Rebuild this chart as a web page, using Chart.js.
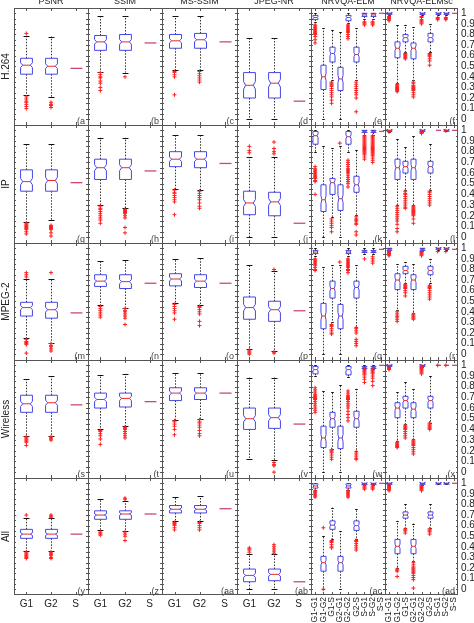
<!DOCTYPE html>
<html>
<head>
<meta charset="utf-8">
<script src="https://cdn.jsdelivr.net/npm/chart.js@4.4.1/dist/chart.umd.min.js"></script>
<style>
html,body{margin:0;padding:0;background:#fff}
#wrap{position:relative;width:474px;height:623px;overflow:hidden}
#wrap canvas{position:absolute}
</style>
</head>
<body>
<div id="wrap"></div>
<script>
// row and column names
const rowNames = ['H.264', 'IP', 'MPEG-2', 'Wireless', 'All']
const metricNames = ['PSNR', 'SSIM', 'MS-SSIM', 'JPEG-NR', 'NRVQA-ELM', 'NRVQA-ELMsc']
const groupLabels = ['G1', 'G2', 'S']
const pairLabels = ['G1-G1', 'G1-G2', 'G1-S', 'G2-G1', 'G2-G2', 'G2-S', 'S-G1', 'S-G2', 'S-S']
const yTickValues = [0, 0.1, 0.2, 0.3, 0.4, 0.5, 0.6, 0.7, 0.8, 0.9, 1]
const panelLetters = ['a','b','c','d','e','f','g','h','i','j','k','l','m','n','o','p','q','r',
  's','t','u','v','w','x','y','z','aa','ab','ac','ad']

// box stats: [lower whisker, q1, median, q3, upper whisker], one row per distortion set
const psnrBoxes = [
  [[0.23,0.425,0.51,0.575,0.79],[0.21,0.425,0.50,0.575,0.78]],
  [[0.14,0.43,0.52,0.63,0.87],[0.16,0.43,0.53,0.63,0.87]],
  [[0.15,0.36,0.44,0.49,0.71],[0.11,0.34,0.42,0.49,0.71]],
  [[0.34,0.56,0.64,0.72,0.87],[0.34,0.56,0.65,0.72,0.90]],
  [[0.36,0.48,0.52,0.565,0.67],[0.365,0.48,0.52,0.565,0.67]]
]
const psnrS = [0.48, 0.51, 0.39, 0.63, 0.52]
const psnrOutliers = [
  [[0.81,0.21,0.19,0.17,0.16,0.14,0.12,0.10],[0.16,0.14,0.13,0.11]],
  [[0.13,0.12,0.11,0.10,0.09,0.08,0.07,0.05,0.03],[0.11,0.10,0.09,0.08,0.07,0.04,0.01]],
  [[0.77,0.75,0.73,0.14,0.12,0.11,0.10,0.09,0.01],[0.77,0.10,0.08,0.07,0.05,0.03]],
  [[0.33,0.32,0.31,0.30,0.29,0.28,0.25],[0.33,0.32,0.31,0.30]],
  [[0.70,0.35,0.34,0.33,0.32,0.31,0.30,0.29],[0.70,0.69,0.68,0.35,0.34,0.33,0.32,0.30,0.29]]
]

const ssimBoxes = [
  [[0.45,0.65,0.73,0.79,0.97],[0.44,0.65,0.73,0.80,0.97]],
  [[0.30,0.54,0.65,0.73,0.93],[0.27,0.54,0.65,0.73,0.93]],
  [[0.46,0.64,0.69,0.75,0.88],[0.44,0.62,0.685,0.75,0.89]],
  [[0.40,0.60,0.68,0.74,0.91],[0.43,0.61,0.69,0.74,0.92]],
  [[0.555,0.66,0.70,0.74,0.85],[0.55,0.66,0.71,0.74,0.835]]
]
const ssimS = [0.72, 0.62, 0.67, 0.66, 0.71]
const ssimOutliers = [
  [[0.44,0.42,0.40,0.39,0.36,0.34,0.30,0.27],[0.40]],
  [[0.29,0.27,0.26,0.24,0.22,0.20,0.18,0.16,0.13],[0.26,0.25,0.24,0.23,0.22,0.20,0.18,0.09,0.04]],
  [[0.45,0.43,0.41,0.39,0.37,0.35],[0.43,0.41,0.40,0.38,0.36,0.34,0.28]],
  [[0.39,0.38,0.36,0.34,0.31,0.26],[0.42,0.41,0.40,0.38,0.36,0.34,0.32]],
  [[0.54,0.53,0.52,0.51],[0.86,0.85,0.54,0.52,0.50,0.46]]
]

const msssimBoxes = [
  [[0.46,0.67,0.74,0.80,0.97],[0.46,0.67,0.75,0.81,0.97]],
  [[0.45,0.66,0.73,0.80,0.96],[0.44,0.65,0.73,0.80,0.96]],
  [[0.48,0.645,0.71,0.76,0.90],[0.46,0.63,0.69,0.75,0.91]],
  [[0.49,0.67,0.74,0.79,0.93],[0.50,0.68,0.74,0.79,0.93]],
  [[0.64,0.72,0.755,0.79,0.87],[0.64,0.72,0.755,0.79,0.88]]
]
const msssimS = [0.73, 0.69, 0.67, 0.74, 0.76]
const msssimOutliers = [
  [[0.45,0.44,0.42,0.40,0.23],[0.45,0.43,0.41,0.39,0.37,0.35]],
  [[0.44,0.42,0.41,0.39,0.37,0.35,0.33,0.21],[0.43,0.41,0.39,0.37,0.35,0.32,0.29,0.27]],
  [[0.47,0.45,0.43,0.41,0.39,0.33],[0.45,0.44,0.42,0.40,0.38,0.31,0.27]],
  [[0.48,0.47,0.45,0.43,0.40,0.35],[0.49,0.47,0.46,0.44,0.42,0.39,0.36,0.34]],
  [[0.63,0.62,0.61,0.60,0.58,0.56],[0.63,0.62,0.60,0.58,0.56]]
]

const jpegBoxes = [
  [[0.0,0.20,0.32,0.44,0.77],[0.0,0.20,0.34,0.44,0.77]],
  [[0.0,0.21,0.32,0.43,0.75],[0.0,0.20,0.33,0.42,0.75]],
  [[0.05,0.33,0.44,0.54,0.84],[0.03,0.31,0.42,0.50,0.79]],
  [[0.12,0.40,0.50,0.60,0.885],[0.11,0.41,0.51,0.60,0.885]],
  [[0.0,0.07,0.13,0.19,0.33],[0.0,0.08,0.14,0.19,0.33]]
]
const jpegS = [0.17, 0.13, 0.41, 0.45, 0.07]
const jpegOutliers = [
  [[],[]],
  [[0.85,0.81,0.79],[0.89,0.83,0.80,0.78]],
  [[0.04,0.03,0.02,0.01,0.0],[0.80,0.02,0.01]],
  [[],[0.09,0.07,0.06,0.0]],
  [[0.39,0.38,0.37,0.35],[0.42,0.40,0.38,0.36,0.34]]
]

const elmBoxes = [
  [[0.92,0.94,0.96,0.98,1.0],[0.0,0.28,0.40,0.51,0.86],[0.37,0.54,0.62,0.68,0.84],
   [0.0,0.27,0.38,0.49,0.82],[0.91,0.93,0.96,0.98,1.0],[0.37,0.54,0.61,0.68,0.86],
   [0.95,0.97,0.985,1.0,1.0],[0.95,0.97,0.985,1.0,1.0],[1,1,1,1,1]],
  [[0.80,0.87,0.95,0.99,1.0],[0.0,0.24,0.35,0.49,0.85],[0.19,0.40,0.51,0.55,0.83],
   [0.0,0.25,0.36,0.49,0.85],[0.80,0.87,0.94,0.99,1.0],[0.21,0.42,0.49,0.57,0.82],
   [0.96,0.98,0.99,1.0,1.0],[0.96,0.98,0.99,1.0,1.0],[0.99,0.99,0.99,0.99,0.99]],
  [[0.93,0.95,0.965,0.98,1.0],[0.0,0.24,0.36,0.48,0.82],[0.30,0.53,0.62,0.69,0.84],
   [0.0,0.24,0.36,0.47,0.84],[0.93,0.95,0.965,0.98,1.0],[0.26,0.53,0.63,0.69,0.84],
   [0.95,0.96,0.97,0.98,1.0],[0.95,0.96,0.97,0.98,1.0],[0.99,0.99,0.99,0.99,0.99]],
  [[0.90,0.92,0.96,0.99,1.0],[0.0,0.23,0.32,0.43,0.76],[0.22,0.42,0.50,0.56,0.75],
   [0.0,0.22,0.32,0.43,0.82],[0.89,0.91,0.96,0.99,1.0],[0.20,0.42,0.50,0.57,0.78],
   [0.97,0.97,0.98,0.99,1.0],[0.97,0.97,0.98,0.99,1.0],[1,1,1,1,1]],
  [[0.94,0.955,0.975,0.995,1.0],[0.0,0.17,0.25,0.31,0.50],[0.47,0.565,0.605,0.645,0.77],
   [0.0,0.17,0.25,0.31,0.55],[0.94,0.955,0.975,0.995,1.0],[0.47,0.555,0.60,0.645,0.755],
   [0.98,0.99,0.995,1.0,1.0],[0.98,0.99,0.995,1.0,1.0],[1,1,1,1,1]]
]
const elmOutliers = [
  [[0.89,0.88,0.87,0.86,0.85,0.84,0.83,0.82,0.81,0.80,0.78,0.75,0.72],[],
   [0.35,0.34,0.33,0.32,0.31,0.29,0.27,0.25,0.23,0.21,0.18,0.15],[],
   [0.89,0.88,0.87,0.86,0.85,0.84,0.83,0.82,0.80,0.78,0.76],
   [0.35,0.33,0.31,0.29,0.27,0.25,0.23,0.20,0.07],[0.92,0.91,0.90,0.89],[0.92,0.91,0.90,0.89],[]],
  [[0.66,0.64,0.63,0.62,0.61,0.60,0.59,0.58,0.57,0.56,0.55,0.53,0.52,0.40],[],
   [0.17,0.15,0.13,0.11,0.09,0.05],[0.88],
   [0.72,0.70,0.68,0.66,0.64,0.63,0.62,0.61,0.60,0.58,0.56,0.54,0.52,0.50,0.47],
   [0.19,0.17,0.16,0.15,0.13,0.12,0.05,0.02],
   [0.95,0.94,0.93,0.92,0.91,0.90,0.89,0.88,0.87,0.86,0.85,0.84,0.83,0.82,0.81,0.80,0.79,0.78,0.77,0.75,0.73],
   [0.95,0.94,0.93,0.92,0.91,0.90,0.89,0.88,0.87,0.86,0.85,0.84,0.83,0.82,0.81,0.80,0.79,0.78,0.77,0.76,0.74,0.72,0.70],[]],
  [[0.90,0.89,0.88,0.87,0.86,0.85,0.84,0.82,0.80,0.79],[],
   [0.28,0.27,0.26,0.24,0.22,0.20,0.19],[0.87],
   [0.90,0.89,0.88,0.87,0.86,0.85,0.84,0.83,0.82,0.80,0.79,0.77],
   [0.25,0.24,0.22,0.20,0.14,0.12,0.10,0.08],[0.90],[0.92,0.90,0.88,0.86],[]],
  [[0.79,0.77,0.75,0.73,0.72,0.71,0.70,0.69,0.68,0.66,0.64,0.62,0.60,0.58,0.56],[],
   [0.21,0.20,0.19,0.18,0.16,0.14,0.12],[],
   [0.76,0.74,0.72,0.71,0.70,0.69,0.68,0.66,0.64,0.62,0.60,0.57,0.54,0.51,0.48],
   [0.19,0.17,0.15,0.13,0.12],[0.96,0.95,0.94,0.93,0.92,0.91,0.89,0.87,0.84],
   [0.96,0.95,0.94,0.93,0.92,0.90,0.88,0.85,0.81],[]],
  [[0.93,0.92,0.91,0.90,0.89,0.88,0.87],[0.58,0.0],[0.46,0.45,0.44,0.42,0.40,0.39],[],
   [0.93,0.92,0.91,0.90,0.89,0.88,0.87],[0.46,0.45,0.43,0.41,0.39,0.37],
   [0.975,0.965,0.955,0.945],[0.975,0.965,0.955,0.945],[]]
]

const elmscBoxes = [
  [[0.98,0.99,1.0,1.0,1.0],[0.34,0.58,0.67,0.73,0.89],[0.63,0.73,0.77,0.80,0.89],
   [0.37,0.57,0.67,0.72,0.87],[0.98,0.99,1.0,1.0,1.0],[0.63,0.73,0.77,0.81,0.90],
   [0.98,0.99,1.0,1.0,1.0],[0.98,0.99,1.0,1.0,1.0],[1,1,1,1,1]],
  [[0.98,0.99,1.0,1.0,1.0],[0.30,0.54,0.65,0.73,0.92],[0.44,0.60,0.66,0.71,0.84],
   [0.30,0.54,0.65,0.73,0.95],[0.98,0.99,1.0,1.0,1.0],[0.44,0.60,0.66,0.71,0.87],
   [1,1,1,1,1],[0.99,0.995,1.0,1.0,1.0],[1,1,1,1,1]],
  [[0.97,0.98,0.99,1.0,1.0],[0.42,0.61,0.70,0.76,0.85],[0.67,0.76,0.79,0.83,0.87],
   [0.39,0.61,0.70,0.75,0.85],[0.97,0.98,0.99,1.0,1.0],[0.67,0.75,0.79,0.83,0.90],
   [0.98,0.99,1.0,1.0,1.0],[0.98,0.99,1.0,1.0,1.0],[0.99,0.99,0.99,0.99,0.99]],
  [[0.98,0.99,1.0,1.0,1.0],[0.29,0.51,0.60,0.65,0.75],[0.45,0.60,0.67,0.71,0.84],
   [0.31,0.51,0.59,0.65,0.78],[0.98,0.99,1.0,1.0,1.0],[0.46,0.60,0.67,0.71,0.90],
   [1,1,1,1,1],[1,1,1,1,1],[1,1,1,1,1]],
  [[0.98,0.99,1.0,1.0,1.0],[0.20,0.335,0.405,0.47,0.645],[0.58,0.67,0.70,0.73,0.80],
   [0.27,0.335,0.405,0.47,0.62],[0.98,0.99,1.0,1.0,1.0],[0.58,0.67,0.70,0.73,0.80],
   [0.99,0.995,1.0,1.0,1.0],[0.99,0.995,1.0,1.0,1.0],[1,1,1,1,1]]
]
const elmscOutliers = [
  [[0.97,0.96,0.95,0.94,0.93],[0.33,0.32,0.31,0.30,0.29,0.28,0.27,0.26],
   [0.62,0.61,0.60,0.59,0.58,0.57],[0.35,0.34,0.32,0.31,0.30,0.29,0.28,0.27,0.25,0.23,0.21],
   [0.97,0.96,0.94,0.93,0.92,0.91,0.90],[0.62,0.61,0.60,0.59,0.57,0.55,0.51],
   [0.96,0.95,0.94],[0.96,0.95,0.94],[]],
  [[0.985],[0.29,0.27,0.25,0.23,0.21,0.19,0.17,0.15,0.12,0.08,0.05],
   [0.43,0.41,0.40,0.38,0.36,0.34,0.32,0.30,0.28,0.27],
   [0.29,0.28,0.27,0.26,0.25,0.24,0.23,0.22,0.21,0.20,0.17,0.13],
   [0.99,0.98,0.97],[0.43,0.42,0.40,0.38,0.36,0.34,0.32,0.30],[],[0.995],[]],
  [[0.97,0.96,0.95,0.94,0.93],[0.40,0.38,0.36,0.35,0.33,0.31],
   [0.66,0.65,0.64,0.63,0.62,0.60,0.58,0.55],[0.38,0.37,0.36,0.35,0.34,0.33],
   [0.97,0.96,0.95,0.94,0.93],[0.65,0.64,0.63,0.62,0.60,0.58,0.56,0.54,0.52],[0.97],[0.97],[]],
  [[0.98,0.97,0.96],[0.28,0.27,0.26,0.25,0.24,0.23],
   [0.44,0.43,0.42,0.41,0.40,0.38,0.36,0.34,0.32],
   [0.30,0.29,0.28,0.27,0.26,0.25,0.23,0.21,0.19,0.17],
   [0.99,0.98,0.97,0.96,0.95,0.94,0.93,0.92],[0.46,0.45,0.44,0.43,0.42,0.41,0.40],[1.0],[1.0],[]],
  [[0.98,0.97,0.96,0.95,0.94,0.93],[0.19,0.18,0.17,0.12],[0.57,0.56,0.55,0.53],
   [0.25,0.23,0.21,0.20,0.19,0.18,0.17,0.16,0.15,0.13,0.11,0.09,0.01],
   [0.98,0.97,0.96,0.95,0.94,0.93],[0.57,0.56,0.55,0.54,0.52],[],[],[]]
]

// panel edges on the page
const colEdges = [14, 88, 162, 237, 311, 385, 458]
const rowEdges = [8, 125, 243, 360, 478, 595]

const BLUE = '#4646e6'
const RED = '#ee2a2a'
const PINK = '#c84a7c'
const FONT = '"Liberation Sans", Arial, sans-serif'

function decor(stats, info){
return {
id: 'decor',
beforeDatasetsDraw(chart){
const {ctx, chartArea: a, scales: {x, y}} = chart
const step = x.getPixelForValue(1) - x.getPixelForValue(0)
const bw = step * (info.narrow ? 0.62 : 0.48)
ctx.save()
// inner ticks
ctx.fillStyle = '#555'
yTickValues.forEach(v => {
  [v, v + 0.05].forEach(t => {
    if (t > 1.001) return
    const py = Math.round(y.getPixelForValue(t))
    ctx.fillRect(a.left, py, 2, 1)
    ctx.fillRect(a.right - 2, py, 2, 1)
  })
})
stats.forEach((s, i) => {
  const px = Math.round(x.getPixelForValue(i))
  ctx.fillRect(px, a.bottom - 3, 1, 3)
  ctx.fillRect(px, a.top, 1, 3)
})

stats.forEach((s, i) => {
  const [lo, q1, med, q3, hi] = s
  const cx = Math.round(x.getPixelForValue(i)) + 0.5
  const xl = cx - bw / 2, xr = cx + bw / 2
  if (lo === hi) {
    ctx.strokeStyle = PINK
    ctx.lineWidth = 1.3
    ctx.beginPath()
    ctx.moveTo(xl, y.getPixelForValue(med)); ctx.lineTo(xr, y.getPixelForValue(med))
    ctx.stroke()
    return
  }
  ctx.lineWidth = 1
  // whiskers
  ctx.strokeStyle = '#333'
  ctx.setLineDash([1.5, 1.5])
  ctx.beginPath()
  if (hi > q3) { ctx.moveTo(cx, y.getPixelForValue(q3)); ctx.lineTo(cx, y.getPixelForValue(hi)) }
  if (lo < q1) { ctx.moveTo(cx, y.getPixelForValue(q1)); ctx.lineTo(cx, y.getPixelForValue(lo)) }
  ctx.stroke()
  ctx.setLineDash([])
  ctx.strokeStyle = '#111'
  ctx.beginPath()
  const hy = Math.round(y.getPixelForValue(hi)) + 0.5
  const ly = Math.round(y.getPixelForValue(lo)) + 0.5
  ctx.moveTo(cx - bw / 4, hy); ctx.lineTo(cx + bw / 4, hy)
  ctx.moveTo(cx - bw / 4, ly); ctx.lineTo(cx + bw / 4, ly)
  ctx.stroke()
  // notched box
  const n = Math.max(0.15 * (q3 - q1), 0.012)
  const inset = bw * 0.18
  const y3 = y.getPixelForValue(q3), y1 = y.getPixelForValue(q1)
  const ym = y.getPixelForValue(med)
  const nt = y.getPixelForValue(med + n), nb = y.getPixelForValue(med - n)
  ctx.strokeStyle = BLUE
  ctx.beginPath()
  ctx.moveTo(xl, y3); ctx.lineTo(xr, y3); ctx.lineTo(xr, nt); ctx.lineTo(xr - inset, ym)
  ctx.lineTo(xr, nb); ctx.lineTo(xr, y1); ctx.lineTo(xl, y1); ctx.lineTo(xl, nb)
  ctx.lineTo(xl + inset, ym); ctx.lineTo(xl, nt); ctx.closePath()
  ctx.stroke()
  ctx.strokeStyle = RED
  ctx.beginPath()
  ctx.moveTo(xl + inset, ym); ctx.lineTo(xr - inset, ym)
  ctx.stroke()
})
ctx.restore()
},
afterDraw(chart){
const {ctx, chartArea: a, scales: {x, y}} = chart
ctx.save()
// panel frame
ctx.fillStyle = '#555'
ctx.fillRect(a.left, a.top, 1, a.bottom - a.top)
ctx.fillRect(a.left, a.top, a.right - a.left, 1)
if (info.lastCol) ctx.fillRect(a.right - 1, a.top, 1, a.bottom - a.top)
if (info.lastRow) ctx.fillRect(a.left, a.bottom - 1, a.right - a.left, 1)

// panel letter
ctx.font = '9px ' + FONT
ctx.fillStyle = '#444'
ctx.textAlign = 'right'
ctx.textBaseline = 'alphabetic'
ctx.fillText('(' + info.letter, a.right - 3, a.bottom - 1)
ctx.fillStyle = '#222'
// column title
if (info.title) {
  ctx.font = '9px ' + FONT
  ctx.textAlign = 'center'
  ctx.textBaseline = 'middle'
  ctx.fillText(info.title, (a.left + a.right) / 2, a.top - 6)
}
// row label
if (info.rowLabel) {
  ctx.font = '10px ' + FONT
  ctx.textAlign = 'center'
  ctx.textBaseline = 'middle'
  ctx.translate(a.left - 8, (a.top + a.bottom) / 2)
  ctx.rotate(-Math.PI / 2)
  ctx.fillText(info.rowLabel, 0, 0)
  ctx.setTransform(1, 0, 0, 1, 0, 0)
}
// right tick labels
if (info.lastCol) {
  ctx.font = '10px ' + FONT
  ctx.textAlign = 'left'
  ctx.textBaseline = 'middle'
  yTickValues.forEach(v => {
    const t = (v === 0 || v === 1) ? String(v) : v.toFixed(1)
    ctx.fillText(t, a.right + 3, y.getPixelForValue(v))
  })
}
// category labels
if (info.lastRow) {
  info.labels.forEach((lab, i) => {
    const px = x.getPixelForValue(i)
    if (info.narrow) {
      ctx.font = '8.5px ' + FONT
      ctx.save()
      ctx.translate(px, a.bottom + 2)
      ctx.rotate(-Math.PI / 2)
      ctx.textAlign = 'right'
      ctx.textBaseline = 'middle'
      ctx.fillText(lab, 0, 0)
      ctx.restore()
    } else {
      ctx.font = '10px ' + FONT
      ctx.textAlign = 'center'
      ctx.textBaseline = 'middle'
      ctx.fillText(lab, px, a.bottom + 9)
    }
  })
}
ctx.restore()
}
}
}

const columns = [
  {boxes: psnrBoxes, s: psnrS, out: psnrOutliers},
  {boxes: ssimBoxes, s: ssimS, out: ssimOutliers},
  {boxes: msssimBoxes, s: msssimS, out: msssimOutliers},
  {boxes: jpegBoxes, s: jpegS, out: jpegOutliers},
  {boxes: elmBoxes, out: elmOutliers},
  {boxes: elmscBoxes, out: elmscOutliers}
]

const wrap = document.getElementById('wrap')

for (let r = 0; r < 5; r++) {
for (let c = 0; c < 6; c++) {
const col = columns[c]
const narrow = c >= 4
const labels = narrow ? pairLabels : groupLabels
const stats = narrow ? col.boxes[r] : [...col.boxes[r], [col.s[r], col.s[r], col.s[r], col.s[r], col.s[r]]]
const outs = narrow ? col.out[r] : [...col.out[r], []]
const points = []
outs.forEach((arr, i) => arr.forEach(v => points.push({x: labels[i], y: v})))

// canvas covers the panel plus room for outside text
const pad = {
  left: c === 0 ? 14 : 0,
  right: c === 5 ? 16 : 0,
  top: r === 0 ? 8 : 0,
  bottom: r === 4 ? 28 : 0
}
const left = colEdges[c] - pad.left
const top = rowEdges[r] - pad.top
const canvas = document.createElement('canvas')
canvas.width = colEdges[c + 1] - colEdges[c] + pad.left + pad.right
canvas.height = rowEdges[r + 1] - rowEdges[r] + pad.top + pad.bottom
canvas.style.left = left + 'px'
canvas.style.top = top + 'px'
wrap.appendChild(canvas)

new Chart(canvas, {
type: 'scatter',
data: {
labels: labels,
datasets: [{
data: points,
pointStyle: 'cross',
radius: 2,
borderWidth: 1,
borderColor: '#ff1f1f',
backgroundColor: '#ff1f1f'
}]
},
options: {
responsive: false,
animation: false,
events: [],
layout: {padding: pad, autoPadding: false},
plugins: {
legend: {display: false},
tooltip: {enabled: false}
},
scales: {
x: {type: 'category', labels: labels, offset: true, display: false},
y: {type: 'linear', min: -0.055, max: 1.05, display: false}
}
},
plugins: [decor(stats, {
  narrow: narrow,
  labels: labels,
  letter: panelLetters[r * 6 + c],
  title: r === 0 ? metricNames[c] : null,
  rowLabel: c === 0 ? rowNames[r] : null,
  lastCol: c === 5,
  lastRow: r === 4
})]
})
}
}
</script>
</body>
</html>
